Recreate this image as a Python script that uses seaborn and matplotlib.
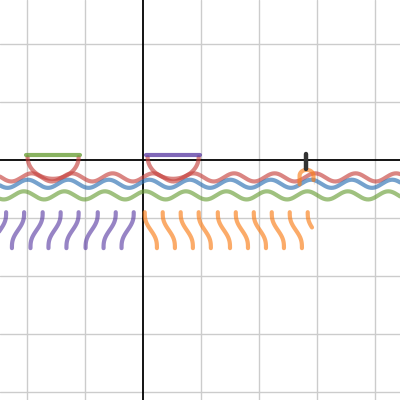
import numpy as np
import matplotlib
matplotlib.use("Agg")
import matplotlib.pyplot as plt
import seaborn as sns

sns.set_style("white")
U = 58.0
wave_names = ["red", "blue", "green"]
wave_levels = [-0.30, -0.41, -0.61]
wave_amps = [0.07, 0.07, 0.07]
wave_phase = [0.0, 0.6, 1.2]
colors = {"red": "#c74440", "blue": "#2d70b3", "green": "#6ca03a",
          "purple": "#6042a6", "orange": "#fa7e19", "black": "#000000"}
bowl_cx = [-1.55, 0.52]
bowl_cy = [0.05, 0.05]
bowl_r = [0.44, 0.44]
lid_color = ["green", "purple"]
lid_y = [0.09, 0.09]
purple_tops = [0.09, 0.40, 0.72, 1.03, 1.34, 1.67, 1.98, 2.29]
orange_tops = [0.03, 0.34, 0.65, 0.96, 1.29, 1.60, 1.91, 2.22, 2.53, 2.84]
s_top, s_bot = -0.90, -1.52

fig = plt.figure(figsize=(4, 4), dpi=100)
ax = fig.add_axes([0, 0, 1, 1])
ax.set_xlim(-143 / U, 257 / U)
ax.set_ylim(-240 / U, 160 / U)
for v in range(-2, 5):
    if v != 0:
        ax.axvline(v, color="#cccccc", lw=1, zorder=0)
for v in range(-4, 3):
    if v != 0:
        ax.axhline(v, color="#cccccc", lw=1, zorder=0)
ax.axhline(0, color="black", lw=1.3, zorder=1)
ax.axvline(0, color="black", lw=1.3, zorder=1)

lw = 3.0
al = 0.65
x = np.linspace(-3, 5, 1200)
for n, lv, a, ph in zip(wave_names, wave_levels, wave_amps, wave_phase):
    sns.lineplot(x=x, y=lv + a * np.sin(9 * x + ph), ax=ax, color=colors[n],
                 lw=lw, alpha=al, sort=False)

th = np.linspace(np.pi, 2 * np.pi, 100)
for cx, cy, r, lc, ly in zip(bowl_cx, bowl_cy, bowl_r, lid_color, lid_y):
    sns.lineplot(x=cx + r * np.cos(th), y=cy + r * np.sin(th) * 0.85, ax=ax,
                 color=colors["red"], lw=lw, alpha=al, sort=False)
    sns.lineplot(x=[cx - r - 0.03, cx + r + 0.03], y=[ly, ly], ax=ax,
                 color=colors[lc], lw=lw, alpha=0.8, sort=False)

tt = np.linspace(0, np.pi, 40)
lx = np.concatenate([[2.94], 2.82 + 0.12 * np.cos(tt), [2.70]])
ly = np.concatenate([[-0.42], -0.27 + 0.10 * np.sin(tt), [-0.42]])
sns.lineplot(x=lx, y=ly, ax=ax, color=colors["orange"], lw=lw, alpha=al, sort=False)
ax.plot([2.81, 2.81], [0.11, -0.15], color="#333333", lw=3.2, zorder=5)

s = np.linspace(0, 1, 60)
shift = 0.21 * (s - np.sin(2 * np.pi * s) / (2 * np.pi))
for x0 in purple_tops:
    sns.lineplot(x=x0 - 2.45 - shift, y=s_top + (s_bot - s_top) * s, ax=ax,
                 color=colors["purple"], lw=lw, alpha=al, sort=False)
for i, x0 in enumerate(orange_tops):
    ss = s if i < len(orange_tops) - 1 else s[:26]
    sh = shift[:len(ss)]
    sns.lineplot(x=x0 + sh, y=s_top + (s_bot - s_top) * ss, ax=ax,
                 color=colors["orange"], lw=lw, alpha=al, sort=False)

ax.set_xticks([]); ax.set_yticks([])
for sp in ax.spines.values():
    sp.set_visible(False)
fig.savefig("out.png")
